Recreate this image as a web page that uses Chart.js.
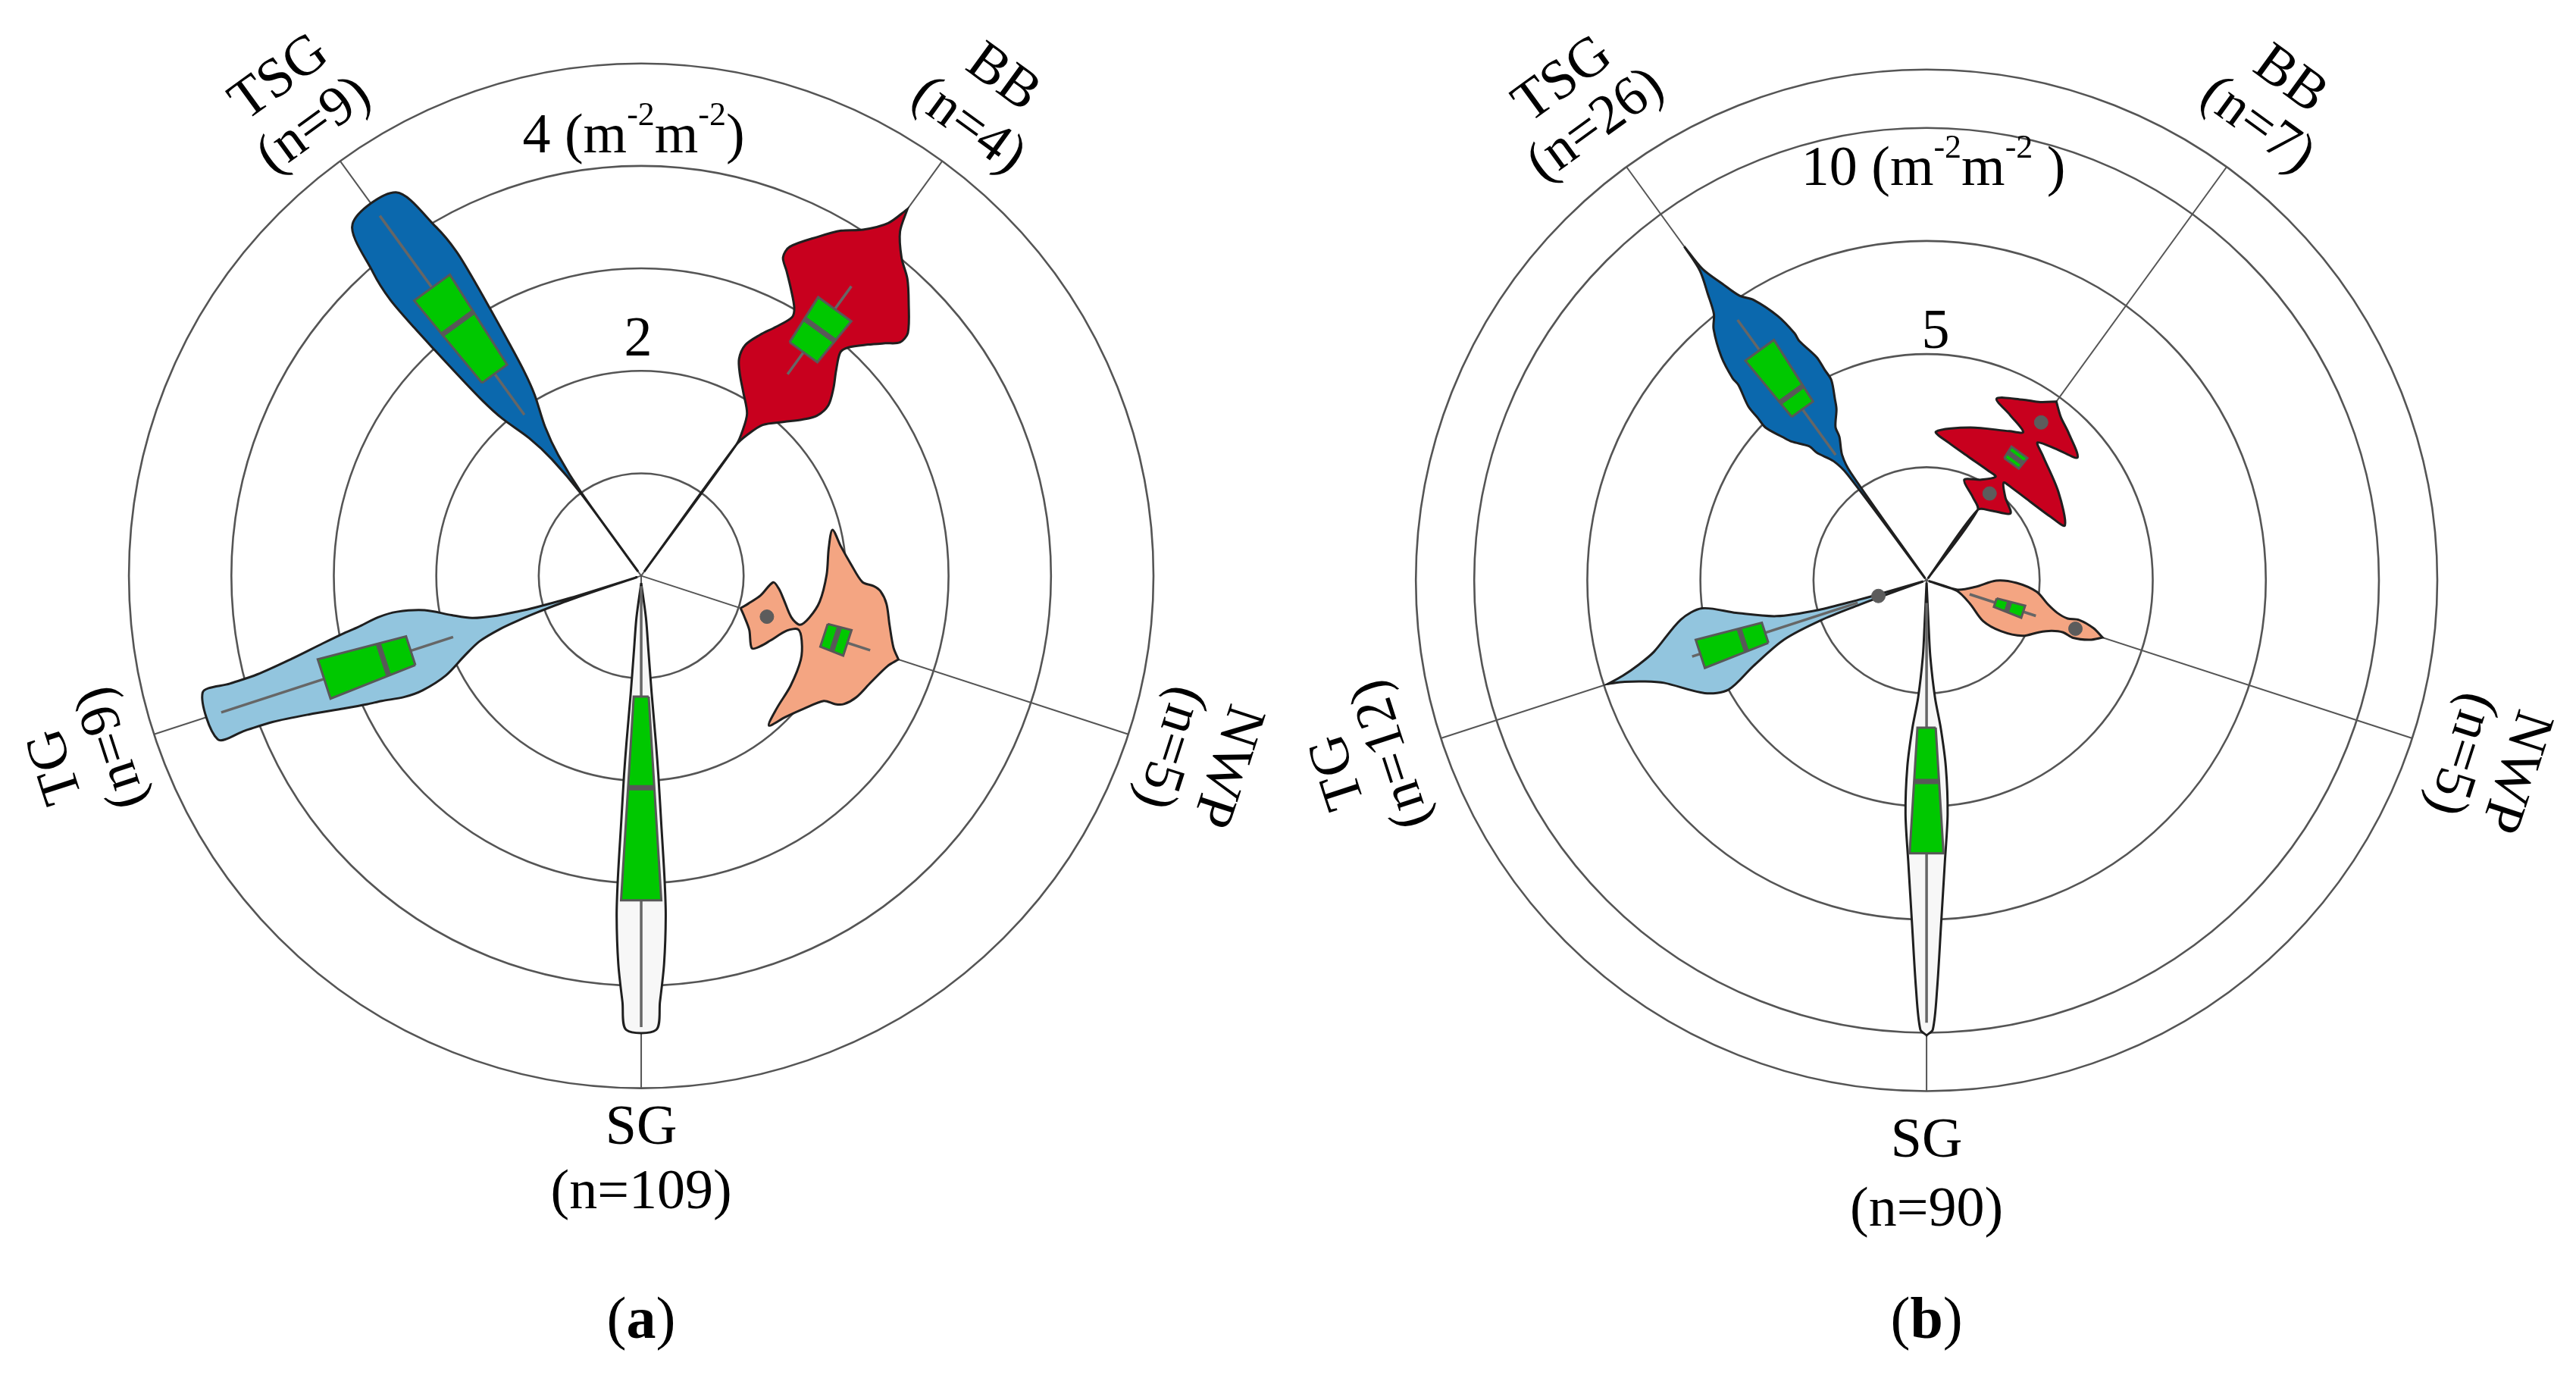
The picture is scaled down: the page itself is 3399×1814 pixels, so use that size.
<!DOCTYPE html>
<html>
<head>
<meta charset="utf-8">
<script src="https://cdn.jsdelivr.net/npm/chart.js@4.4.1/dist/chart.umd.min.js"></script>
<style>
  html, body { margin: 0; padding: 0; background: #ffffff; }
  #wrap { position: relative; width: 3399px; height: 1814px; background: #ffffff; overflow: hidden; }
  canvas { position: absolute; top: 0; display: block; }
</style>
</head>
<body>
<div id="wrap">
  <canvas id="chartA" width="1700" height="1814" style="left:0px"></canvas>
  <canvas id="chartB" width="1699" height="1814" style="left:1700px"></canvas>
</div>
<script>
// ---------------- DATA ----------------
const categories = ['BB', 'NWP', 'SG', 'TG', 'TSG'];
const categoryAngles = [36, 108, 180, 252, 324];   // clockwise from top, degrees
const countsA = [4, 5, 109, 9, 9];
const countsB = [7, 5, 90, 12, 26];

const ringTicksA = [1, 2, 3, 4];
const ringMaxA = 5;
const ringTicksB = [2.5, 5, 7.5, 10];
const ringMaxB = 11.29;
const tickLabelValuesA = [2, 4];
const tickLabelValuesB = [5, 10];
const panelCaptions = ['a', 'b'];

// Violin outlines: radial value (m2 m-2) and angular half-width (radians)
const violinA_BB_r  = [0.05, 1.58, 1.72, 1.89, 2.05, 2.19, 2.32, 2.47, 2.62, 2.76, 2.92, 3.01, 3.16, 3.29, 3.40, 3.52, 3.73, 3.89, 4.01, 4.20, 4.42];
const violinA_BB_w  = [0, 0, 0.017, 0.050, 0.121, 0.173, 0.204, 0.204, 0.170, 0.132, 0.100, 0.109, 0.148, 0.182, 0.209, 0.204, 0.147, 0.103, 0.058, 0.017, 0];
const violinA_NWP_r = [1.02, 1.08, 1.18, 1.29, 1.35, 1.41, 1.52, 1.62, 1.69, 1.76, 1.81, 1.85, 1.92, 1.97, 2.05, 2.16, 2.27, 2.34, 2.41, 2.47, 2.56, 2.64];
const violinA_NWP_w = [0, 0.06, 0.15, 0.265, 0.22, 0.15, 0.045, 0.015, 0.07, 0.17, 0.32, 0.46, 0.55, 0.46, 0.37, 0.286, 0.27, 0.25, 0.20, 0.12, 0.037, 0];
const violinA_SG_r  = [0.07, 0.41, 0.72, 1.15, 1.64, 1.95, 2.41, 2.96, 3.33, 3.79, 4.16, 4.43];
const violinA_SG_w  = [0, 0.113, 0.097, 0.089, 0.088, 0.086, 0.081, 0.077, 0.072, 0.059, 0.044, 0.033];
const violinA_TG_r  = [0.04, 0.73, 1.08, 1.26, 1.46, 1.70, 1.89, 2.14, 2.41, 2.60, 2.81, 2.95, 3.18, 3.51, 3.87, 4.15, 4.43];
const violinA_TG_w  = [0, 0.012, 0.024, 0.033, 0.045, 0.070, 0.110, 0.157, 0.168, 0.158, 0.135, 0.124, 0.105, 0.081, 0.063, 0.058, 0.054];
const violinA_TSG_r = [0.05, 1.00, 1.43, 1.73, 2.05, 2.30, 2.67, 2.98, 3.28, 3.64, 3.95, 4.44];
const violinA_TSG_w = [0, 0.004, 0.026, 0.055, 0.096, 0.108, 0.112, 0.113, 0.113, 0.110, 0.096, 0.059];

const violinB_BB_r  = [0.05, 1.92, 2.10, 2.37, 2.53, 2.75, 2.78, 2.88, 3.08, 3.29, 3.51, 3.77, 3.91, 4.09, 4.30, 4.52, 4.67, 4.88];
const violinB_BB_w  = [0, 0, 0.12, 0.27, 0.13, 0.04, 0.12, 0.30, 0.47, 0.565, 0.35, 0.12, 0.05, 0.16, 0.26, 0.14, 0.06, 0];
const violinB_NWP_r = [0.05, 0.71, 1.09, 1.54, 1.99, 2.45, 2.73, 2.98, 3.23, 3.48, 3.84, 4.09];
const violinB_NWP_w = [0, 0.02, 0.18, 0.31, 0.285, 0.21, 0.12, 0.07, 0.05, 0.06, 0.035, 0];
const violinB_SG_r  = [0.05, 1.00, 1.69, 2.60, 3.29, 4.14, 5.18, 6.23, 7.62, 9.01, 9.92, 10.05];
const violinB_SG_w  = [0, 0.045, 0.049, 0.072, 0.096, 0.103, 0.090, 0.065, 0.042, 0.026, 0.014, 0];
const violinB_TG_r  = [0.08, 1.13, 1.57, 2.48, 3.41, 4.27, 5.00, 5.50, 6.23, 6.62, 7.04, 7.40];
const violinB_TG_w  = [0, 0.030, 0.035, 0.047, 0.080, 0.145, 0.190, 0.156, 0.058, 0.030, 0.010, 0];
const violinB_TSG_r = [0.05, 2.91, 3.34, 3.71, 3.94, 4.27, 4.49, 4.90, 5.17, 5.50, 5.99, 6.19, 6.70, 7.28, 7.53, 7.95, 8.48, 9.11];
const violinB_TSG_w = [0, 0.014, 0.035, 0.082, 0.092, 0.143, 0.160, 0.184, 0.177, 0.170, 0.139, 0.137, 0.115, 0.075, 0.046, 0.025, 0.004, 0];

// Box plots (category order BB, NWP, SG, TG, TSG)
const whiskerLowA  = [2.43, 1.88, 0.10, 1.93, 1.94];
const q1A          = [2.70, 1.88, 1.18, 2.37, 2.44];
const medianA      = [2.97, 2.00, 2.07, 2.65, 3.05];
const q3A          = [3.22, 2.12, 3.17, 3.26, 3.48];
const whiskerHighA = [3.49, 2.35, 4.40, 4.31, 4.34];
const outliersA    = [[], [1.29], [], [], []];

const whiskerLowB  = [3.20, 1.00, 0.50, 1.60, 3.42];
const q1B          = [3.20, 1.60, 3.26, 3.76, 4.68];
const medianB      = [3.35, 1.90, 4.45, 4.28, 5.09];
const q3B          = [3.50, 2.25, 6.04, 5.27, 6.29];
const whiskerHighB = [3.50, 2.54, 9.77, 5.45, 7.11];
const outliersB    = [[2.37, 4.31], [3.46], [], [1.12], []];

// ---------------- STYLE / LAYOUT ----------------
const violinColors = { BB: '#c8001e', NWP: '#f4a582', SG: '#f7f7f7', TG: '#92c5de', TSG: '#0b68ad' };
const boxHalfAngle = 0.062;
const SERIF = '"Liberation Serif", "DejaVu Serif", serif';

function polarPt(r, angDeg, dw) {
  const t = angDeg * Math.PI / 180 + dw;
  return { x: r * Math.sin(t), y: r * Math.cos(t) };
}
function violinPoints(rs, ws, ang) {
  const pts = [];
  for (let i = 0; i < rs.length; i++) pts.push(polarPt(rs[i], ang, ws[i]));
  for (let i = rs.length - 1; i >= 0; i--) pts.push(polarPt(rs[i], ang, -ws[i]));
  pts.push(pts[0]);
  return pts;
}

function buildDatasets(violins, lo, q1, med, q3, hi, outl) {
  const ds = [];
  categories.forEach((cat, i) => {
    const ang = categoryAngles[i];
    const v = violins[cat];
    ds.push({
      label: cat + ' violin', data: violinPoints(v.r, v.w, ang), showLine: true,
      fill: 'shape', backgroundColor: violinColors[cat], borderColor: '#1f1f1f', borderWidth: 3,
      pointRadius: 0, tension: 0.3, order: 30
    });
    ds.push({
      label: cat + ' whisker', data: [polarPt(lo[i], ang, 0), polarPt(hi[i], ang, 0)], showLine: true,
      fill: false, borderColor: '#666666', borderWidth: 3.5, pointRadius: 0, order: 20
    });
    const bw = boxHalfAngle;
    const boxPts = [polarPt(q1[i], ang, -bw), polarPt(q3[i], ang, -bw), polarPt(q3[i], ang, bw), polarPt(q1[i], ang, bw)];
    boxPts.push(boxPts[0]);
    ds.push({
      label: cat + ' box', data: boxPts, showLine: true, fill: 'shape', backgroundColor: '#00c800',
      borderColor: '#585858', borderWidth: 3, pointRadius: 0, tension: 0, order: 10
    });
    ds.push({
      label: cat + ' median', data: [polarPt(med[i], ang, -bw), polarPt(med[i], ang, bw)], showLine: true,
      fill: false, borderColor: '#585858', borderWidth: 7, pointRadius: 0, order: 5
    });
    if (outl[i].length) {
      ds.push({
        label: cat + ' outliers', data: outl[i].map(v => polarPt(v, ang, 0)), showLine: false,
        pointRadius: 9, pointBackgroundColor: '#5c5c5c', pointBorderColor: '#5c5c5c', order: 1
      });
    }
  });
  return ds;
}

const polarGridPlugin = {
  id: 'polarGrid',
  beforeDatasetsDraw(chart, args, o) {
    const ctx = chart.ctx, xs = chart.scales.x, ys = chart.scales.y;
    const cx = xs.getPixelForValue(0), cy = ys.getPixelForValue(0);
    const unit = xs.getPixelForValue(1) - cx;
    ctx.save();
    ctx.strokeStyle = '#555555';
    ctx.lineWidth = 2.6;
    o.ticks.concat([o.max]).forEach(v => {
      ctx.beginPath(); ctx.arc(cx, cy, v * unit, 0, Math.PI * 2); ctx.stroke();
    });
    ctx.lineWidth = 2;
    categoryAngles.forEach(a => {
      const p = polarPt(o.max, a, 0);
      ctx.beginPath(); ctx.moveTo(cx, cy);
      ctx.lineTo(xs.getPixelForValue(p.x), ys.getPixelForValue(p.y)); ctx.stroke();
    });
    ctx.restore();
  }
};

function drawRich(ctx, segs, x, y, size) {
  const widths = segs.map(s => {
    ctx.font = (s.sup ? Math.round(size * 0.6) : size) + 'px ' + SERIF;
    return ctx.measureText(s.t).width;
  });
  const total = widths.reduce((a, b) => a + b, 0);
  let px = x - total / 2;
  ctx.textAlign = 'left';
  segs.forEach((s, i) => {
    ctx.font = (s.sup ? Math.round(size * 0.6) : size) + 'px ' + SERIF;
    ctx.fillText(s.t, px, s.sup ? y - size * 0.38 : y);
    px += widths[i];
  });
  ctx.textAlign = 'center';
}

const panelTextPlugin = {
  id: 'panelText',
  afterDatasetsDraw(chart, args, o) {
    const ctx = chart.ctx, xs = chart.scales.x, ys = chart.scales.y;
    const cx = xs.getPixelForValue(0), cy = ys.getPixelForValue(0);
    const R = xs.getPixelForValue(o.max) - cx;
    ctx.save();
    ctx.fillStyle = '#000000';
    ctx.textAlign = 'center';
    ctx.textBaseline = 'middle';
    ctx.font = o.catSize + 'px ' + SERIF;
    categories.forEach((name, i) => {
      const angDeg = categoryAngles[i];
      const a = angDeg * Math.PI / 180;
      const countTxt = '(n=' + o.counts[i] + ')';
      if (angDeg === 180) {
        ctx.fillText(name, cx, cy + R * o.bottomInner);
        ctx.fillText(countTxt, cx, cy + R * o.bottomOuter);
      } else {
        [[name, o.nameR], [countTxt, o.countR]].forEach(([txt, f]) => {
          const px = cx + R * f * Math.sin(a), py = cy - R * f * Math.cos(a);
          ctx.save(); ctx.translate(px, py); ctx.rotate(a); ctx.fillText(txt, 0, 0); ctx.restore();
        });
      }
    });
    // radial tick labels
    o.tickLabels.forEach((v, i) => {
      const y = ys.getPixelForValue(o.tickLabelPos[i]);
      const x = cx + o.tickLabelDx[i];
      if (i === o.tickLabels.length - 1) {
        drawRich(ctx, [{ t: v + ' (m' }, { t: '-2', sup: true }, { t: 'm' }, { t: '-2', sup: true }, { t: o.closing }], x, y, o.tickSize);
      } else {
        ctx.font = o.tickSize + 'px ' + SERIF;
        ctx.fillText(String(v), x, y);
      }
    });
    // caption
    const segs = [{ t: '(', b: false }, { t: o.caption, b: true }, { t: ')', b: false }];
    const ws = segs.map(s => { ctx.font = (s.b ? 'bold ' : '') + o.capSize + 'px ' + SERIF; return ctx.measureText(s.t).width; });
    let px = cx - ws.reduce((a, b) => a + b, 0) / 2;
    ctx.textAlign = 'left';
    segs.forEach((s, i) => {
      ctx.font = (s.b ? 'bold ' : '') + o.capSize + 'px ' + SERIF;
      ctx.fillText(s.t, px, o.captionY); px += ws[i];
    });
    ctx.restore();
  }
};

function makeChart(canvasId, cfg) {
  const W = cfg.width, H = 1814;
  const u = cfg.unitPx;
  return new Chart(document.getElementById(canvasId), {
    type: 'scatter',
    data: { datasets: cfg.datasets },
    options: {
      responsive: false, animation: false, devicePixelRatio: 1,
      layout: { padding: 0 },
      scales: {
        x: { type: 'linear', display: false, min: -cfg.cx / u, max: (W - cfg.cx) / u },
        y: { type: 'linear', display: false, min: -(H - cfg.cy) / u, max: cfg.cy / u }
      },
      plugins: {
        legend: { display: false }, tooltip: { enabled: false },
        polarGrid: { ticks: cfg.ticks, max: cfg.max },
        panelText: cfg.text
      }
    },
    plugins: [polarGridPlugin, panelTextPlugin]
  });
}

const violinsA = {
  BB: { r: violinA_BB_r, w: violinA_BB_w }, NWP: { r: violinA_NWP_r, w: violinA_NWP_w },
  SG: { r: violinA_SG_r, w: violinA_SG_w }, TG: { r: violinA_TG_r, w: violinA_TG_w },
  TSG: { r: violinA_TSG_r, w: violinA_TSG_w }
};
const violinsB = {
  BB: { r: violinB_BB_r, w: violinB_BB_w }, NWP: { r: violinB_NWP_r, w: violinB_NWP_w },
  SG: { r: violinB_SG_r, w: violinB_SG_w }, TG: { r: violinB_TG_r, w: violinB_TG_w },
  TSG: { r: violinB_TSG_r, w: violinB_TSG_w }
};

makeChart('chartA', {
  width: 1700, cx: 846, cy: 758, unitPx: 136.8, ticks: ringTicksA, max: ringMaxA,
  datasets: buildDatasets(violinsA, whiskerLowA, q1A, medianA, q3A, whiskerHighA, outliersA),
  text: {
    max: ringMaxA, counts: countsA, catSize: 74, nameR: 1.2, countR: 1.085, bottomInner: 1.08, bottomOuter: 1.205,
    tickLabels: tickLabelValuesA, tickLabelPos: [2.29, 4.27], tickLabelDx: [-4, -10], tickSize: 74, closing: ')',
    caption: panelCaptions[0], capSize: 78, captionY: 1745
  }
});
makeChart('chartB', {
  width: 1699, cx: 842, cy: 764, unitPx: 60.4, ticks: ringTicksB, max: ringMaxB,
  datasets: buildDatasets(violinsB, whiskerLowB, q1B, medianB, q3B, whiskerHighB, outliersB),
  text: {
    max: ringMaxB, counts: countsB, catSize: 74, nameR: 1.21, countR: 1.1, bottomInner: 1.1, bottomOuter: 1.235,
    tickLabels: tickLabelValuesB, tickLabelPos: [5.46, 9.05], tickLabelDx: [12, 9], tickSize: 74, closing: ' )',
    caption: panelCaptions[1], capSize: 78, captionY: 1745
  }
});
</script>
</body>
</html>
